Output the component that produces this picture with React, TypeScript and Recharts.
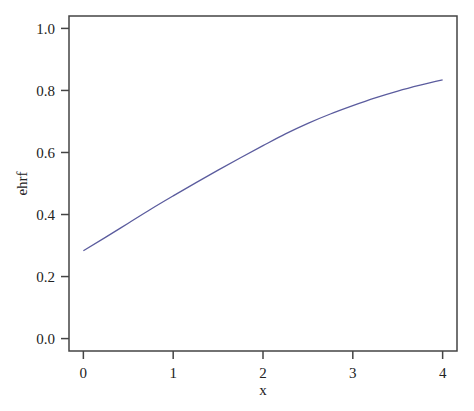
import { Label, Line, LineChart, ReferenceArea, XAxis, YAxis } from "recharts";

// x positions read along the curve, and the ehrf value at each
const xValues = [0, 0.25, 0.5, 0.75, 1, 1.25, 1.5, 1.75, 2, 2.25, 2.5, 2.75, 3, 3.25, 3.5, 3.75, 4];
const ehrfValues = [
  0.283, 0.327, 0.372, 0.417, 0.46, 0.502, 0.543, 0.583, 0.622, 0.66, 0.694, 0.724, 0.751,
  0.776, 0.798, 0.817, 0.834,
];
const xTicks = [0, 1, 2, 3, 4];
const yTicks = [0, 0.2, 0.4, 0.6, 0.8, 1.0];
const xDomain = [-0.16, 4.16];
const yDomain = [-0.04, 1.04];

const data = xValues.map((x, i) => ({ x, ehrf: ehrfValues[i] }));

const FONT = '"Liberation Serif", "DejaVu Serif", serif';
const INK = "#222";
const FRAME = "#444";

export default function App() {
  return (
    <div style={{ position: "absolute", left: 0, top: 0, width: 474, height: 411, background: "#fff" }}>
      <LineChart
        width={474}
        height={411}
        data={data}
        margin={{ top: 16, right: 17, bottom: 10, left: 0 }}
      >
        <XAxis
          dataKey="x"
          type="number"
          domain={xDomain}
          ticks={xTicks}
          allowDataOverflow
          height={50}
          axisLine={false}
          tickSize={8}
          tickMargin={8}
          tickLine={{ stroke: FRAME, strokeWidth: 1.5 }}
          tick={{ fill: INK, fontSize: 15, fontFamily: FONT }}
        >
          <Label
            value="x"
            position="insideBottom"
            offset={6}
            style={{ fill: INK, fontSize: 15, fontFamily: FONT }}
          />
        </XAxis>
        <YAxis
          type="number"
          domain={yDomain}
          ticks={yTicks}
          allowDataOverflow
          width={69}
          axisLine={false}
          tickSize={8}
          tickMargin={6}
          tickLine={{ stroke: FRAME, strokeWidth: 1.5 }}
          tick={{ fill: INK, fontSize: 15, fontFamily: FONT }}
          tickFormatter={(v: number) => v.toFixed(1)}
        >
          <Label
            content={(props: any) => {
              const vb = props.viewBox || { x: 0, y: 16, width: 69, height: 335 };
              const cx = vb.x + 22;
              const cy = vb.y + vb.height / 2;
              return (
                <text
                  x={cx}
                  y={cy}
                  transform={`rotate(-90 ${cx} ${cy})`}
                  textAnchor="middle"
                  dominantBaseline="central"
                  fill={INK}
                  fontSize={15}
                  fontFamily={FONT}
                >
                  ehrf
                </text>
              );
            }}
          />
        </YAxis>
        <ReferenceArea
          x1={xDomain[0]}
          x2={xDomain[1]}
          y1={yDomain[0]}
          y2={yDomain[1]}
          fill="none"
          stroke={FRAME}
          strokeWidth={1.5}
          ifOverflow="visible"
        />
        <Line
          type="monotone"
          dataKey="ehrf"
          stroke="#5b5c9e"
          strokeWidth={1.3}
          dot={false}
          isAnimationActive={false}
        />
      </LineChart>
    </div>
  );
}
